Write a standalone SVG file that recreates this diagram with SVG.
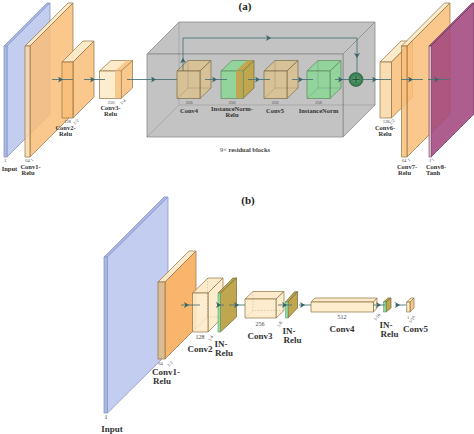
<svg xmlns="http://www.w3.org/2000/svg" width="474" height="434" viewBox="0 0 474 434">
<style>
text{font-family:"Liberation Serif","DejaVu Serif",serif;fill:#2b2b2b;text-anchor:middle}
.t{font-size:11px;font-weight:bold;fill:#222}
.la{font-size:6.500px;font-weight:bold;fill:#333}
.lb{font-size:9px;font-weight:bold;fill:#333}
.s{font-size:4.500px;fill:#444}
.sb{font-size:6px;fill:#444}
.blue{fill:#c3cdf0;stroke:#8b97c4;stroke-width:.8;stroke-linejoin:round}
.bluet{fill:#aab8e6;stroke:#8b97c4;stroke-width:.8;stroke-linejoin:round}
.or{fill:#f9bd78;fill-opacity:.85;stroke:#8f7343;stroke-width:.7;stroke-linejoin:round}
.orp{fill:#fbd8a8;fill-opacity:.88;stroke:#8f7343;stroke-width:.7;stroke-linejoin:round}
.ort{fill:#fde8c6;fill-opacity:.92;stroke:#8f7343;stroke-width:.7;stroke-linejoin:round}
.pale{fill:#fdeac8;fill-opacity:.9;stroke:#8f7343;stroke-width:.7;stroke-linejoin:round}
.tan{fill:#d9c193;fill-opacity:.92;stroke:#7d6b48;stroke-width:.7;stroke-linejoin:round}
.gr{fill:#8fd69a;fill-opacity:.92;stroke:#5d8a5d;stroke-width:.7;stroke-linejoin:round}
.ol{fill:#c0a74f;stroke:#6d6a3a;stroke-width:.7;stroke-linejoin:round}
.pu{fill:#a2487e;fill-opacity:.88;stroke:#6e3a5e;stroke-width:.7;stroke-linejoin:round}
.grey{fill:#c3c3c3;stroke:#8c8c8c;stroke-width:.8;stroke-linejoin:round}
.hid{fill:none;stroke:#000;stroke-opacity:.22;stroke-width:.6}
.c{fill:none;stroke:#4a7478;stroke-width:.9;marker-mid:url(#a)}
</style>
<defs>
<marker id="a" markerWidth="8" markerHeight="8" refX="4" refY="3" orient="auto" markerUnits="userSpaceOnUse"><path d="M0 0L5 3L0 6L1.300 3Z" fill="#3b6468"/></marker>
<radialGradient id="g" cx=".5" cy=".5" r=".6"><stop offset="0" stop-color="#5fa877"/><stop offset="1" stop-color="#2a6a45"/></radialGradient>
</defs>
<text class="t" x="245" y="10">(a)</text>
<text class="t" x="248" y="204">(b)</text>

<g id="a-input"><path class="bluet" d="M4 46L47 3H50L7 46Z"/><path class="blue" d="M7 46L50 3V114L7 157Z"/><rect class="bluet" x="4" y="46" width="3" height="111"/><text class="s" x="5" y="162">1</text><text class="la" x="9.500" y="171">Input</text></g>
<g id="a-conv1"><path class="ort" d="M25 46L68 3H73L30 46Z"/><path class="or" d="M30 46L73 3V114L30 157Z"/><rect class="orp" x="25" y="46" width="5" height="111"/><text class="s" x="27.500" y="162">64</text><text class="s" transform="translate(33,161) rotate(-45)">1</text><text class="la" x="30.500" y="169">Conv1-</text><text class="la" x="28" y="175">Relu</text></g>
<g id="a-conv2"><path class="ort" d="M62 62L83 41H94L73 62Z"/><path class="or" d="M73 62L94 41V97L73 118Z"/><rect class="or" x="62" y="62" width="11" height="56"/><text class="s" x="67.500" y="123">128</text><text class="s" transform="translate(77,123) rotate(-45)">1/2</text><text class="la" x="65.500" y="130">Conv2-</text><text class="la" x="65.500" y="135.500">Relu</text></g>
<g id="a-conv3"><path class="ort" d="M99.500 71L111 60.500H132.500L121 71Z"/><path d="M115 71L126.500 60.500H132.500L121 71Z" fill="#f9c98c"/><path class="or" d="M121 71L132.500 60.500V88L121 98.500Z"/><rect class="pale" x="99.500" y="71" width="21.500" height="27.500"/><rect x="115" y="71.400" width="5.600" height="26.700" fill="#f9c98c"/><text class="s" x="111" y="103.500">256</text><text class="s" transform="translate(124,103) rotate(-45)">1/4</text><text class="la" x="110.500" y="110">Conv3-</text><text class="la" x="110.500" y="116">Relu</text></g>

<g id="res-blocks">
<path class="grey" d="M147 54L179 22H375L343 54Z"/>
<path class="grey" d="M343 54L375 22V105L343 137Z"/>
<rect class="grey" x="147" y="54" width="196" height="83"/>
<path class="hid" d="M179 22V105H375M179 105L147 137"/>
<text class="sb" style="font-size:6.500px" x="245" y="152"><tspan>9× </tspan><tspan font-weight="bold">residual blocks</tspan></text>
</g>

<g id="conv4"><path class="tan" d="M177 71L188 60.500H211L200 71Z"/><path class="tan" d="M200 71L211 60.500V88L200 98.500Z"/><rect class="tan" x="177" y="71" width="23" height="27.500"/><path class="hid" d="M188 60.500V88H211M188 88L177 98.500"/><text class="s" x="189" y="103.500">256</text><text class="la" x="189" y="113">Conv4</text></g>
<g id="in-relu"><path class="gr" d="M221 71L232 60.500H254L243 71Z"/><path d="M236 71L247 60.500H254L243 71Z" fill="#c0a74f"/><path class="ol" d="M243 71L254 60.500V88L243 98.500Z"/><rect class="gr" x="221" y="71" width="22" height="27.500"/><rect x="236" y="71.400" width="6.600" height="26.700" fill="#c0a74f"/><text class="s" x="232" y="103.500">256</text><text class="la" x="232" y="110.500">InstanceNorm-</text><text class="la" x="232" y="116.500">Relu</text></g>
<g id="conv5"><path class="tan" d="M264 71L275 60.500H298L287 71Z"/><path class="tan" d="M287 71L298 60.500V88L287 98.500Z"/><rect class="tan" x="264" y="71" width="23" height="27.500"/><path class="hid" d="M275 60.500V88H298M275 88L264 98.500"/><text class="s" x="275" y="103.500">256</text><text class="la" x="275" y="113">Conv5</text></g>
<g id="instance-norm"><path class="gr" d="M307 71L318 60.500H341L330 71Z"/><path class="gr" d="M330 71L341 60.500V88L330 98.500Z"/><rect class="gr" x="307" y="71" width="23" height="27.500"/><path class="hid" d="M318 60.500V88H341M318 88L307 98.500"/><text class="s" x="318.500" y="103.500">256</text><text class="la" x="318.500" y="113">InstanceNorm</text></g>
<g id="sum"><circle cx="356" cy="79.500" r="7" fill="url(#g)" stroke="#2a5a3d" stroke-width=".6"/><path d="M352.500 79.500H359.500M356 76V83" stroke="#1d4a30" stroke-width=".9"/></g>

<g id="a-conv6"><path class="ort" d="M380 62L401 41H412.500L391.500 62Z"/><path class="or" d="M391.500 62L412.500 41V97L391.500 118Z"/><rect class="orp" x="380" y="62" width="11.500" height="56"/><text class="s" x="386" y="123">128</text><text class="s" transform="translate(393,123) rotate(-45)">1/2</text><text class="la" x="385" y="130">Conv6-</text><text class="la" x="385" y="135.500">Relu</text></g>
<g id="a-conv7"><path class="ort" d="M401.500 46L444.500 3H450L407 46Z"/><path class="or" d="M407 46L450 3V114L407 157Z"/><rect class="or" x="401.500" y="46" width="5.500" height="111"/><text class="s" x="404" y="162">64</text><text class="s" transform="translate(410,161) rotate(-45)">1</text><text class="la" x="407" y="168.500">Conv7-</text><text class="la" x="404.500" y="174.500">Relu</text></g>
<g id="a-conv8"><path class="pu" d="M429 46L472 3H474V3L431 46Z"/><path class="pu" d="M431 46L474 3V114L431 157Z"/><rect x="429" y="46" width="2.500" height="111" fill="#dcb7c4" stroke="#6e3a5e" stroke-width=".6"/><text class="s" x="430" y="162">1</text><text class="s" transform="translate(434,161) rotate(-45)">1</text><text class="la" x="436" y="168.500">Conv8-</text><text class="la" x="433" y="174.500">Tanh</text></g>

<g id="b-input"><path class="bluet" d="M104 257L164 197H168L107.500 257Z"/><path class="blue" d="M107.500 257L168 197V353L107.500 413Z"/><rect class="bluet" x="104" y="257" width="3.500" height="156"/><text class="sb" x="106" y="419">1</text><text class="lb" x="112" y="432">Input</text></g>
<g id="b-conv1"><path class="ort" d="M158 282L189 251H196L165 282Z"/><path d="M165 282L196 251V328L165 359Z" fill="#f9b56c" stroke="#8f7343" stroke-width=".7"/><rect x="158" y="282" width="7" height="77" fill="#dcbc94" stroke="#8f7343" stroke-width=".7"/><text class="s" x="160.500" y="365">64</text><text class="s" transform="translate(171,365) rotate(-45)">1/2</text><text class="lb" x="166" y="375">Conv1-</text><text class="lb" x="162" y="384">Relu</text></g>
<g id="b-conv2"><path class="ort" d="M192.500 293L208 278H223L208 293Z"/><path class="pale" d="M208 293L223 278V317L208 332Z"/><rect class="pale" x="192.500" y="293" width="15.500" height="39"/><path class="hid" d="M207.500 278V317H223M207.500 317L192.500 332" stroke-dasharray="1.500 1.500"/><text class="sb" x="200" y="339">128</text><text class="s" transform="translate(212,339) rotate(-60)">1/4</text><text class="lb" x="200" y="352">Conv2</text></g>
<g id="b-in1"><path class="ol" d="M218 293L233 278H236.500L220.500 293Z"/><path class="ol" d="M220.500 293L236.500 278V317L220.500 332Z"/><rect x="218" y="293" width="2.500" height="39" fill="#8fe09a" stroke="#5d8a5d" stroke-width=".5"/><text class="lb" x="221" y="347">IN-</text><text class="lb" x="224" y="356">Relu</text></g>
<g id="b-conv3"><path class="ort" d="M245 299L253 291.500H284L276 299Z"/><path class="pale" d="M276 299L284 291.500V310.500L276 318Z"/><rect class="pale" x="245" y="299" width="31" height="19"/><path class="hid" d="M253 291.500V310.500H284M253 310.500L245 318" stroke-dasharray="1.500 1.500"/><text class="sb" x="260" y="326">256</text><text class="s" transform="translate(281,325) rotate(-60)">1/8</text><text class="lb" x="260" y="339">Conv3</text></g>
<g id="b-in2"><path class="ol" d="M285.500 302L294.500 291.700H297.500L288 302Z"/><path class="ol" d="M288 302L297.500 291.700V308L288 318Z"/><rect x="285.500" y="302" width="2.500" height="16" fill="#8fe09a" stroke="#5d8a5d" stroke-width=".5"/><text class="lb" x="289" y="334">IN-</text><text class="lb" x="292.500" y="343">Relu</text></g>
<g id="b-conv4"><path class="ort" d="M311 302L315 298H377L373.500 302Z"/><path class="pale" d="M373.500 302L377 298V308L373.500 312Z"/><rect class="pale" x="311" y="302" width="62.500" height="10"/><text class="sb" x="342" y="319">512</text><text class="s" transform="translate(378,318) rotate(-50)">1/16</text><text class="lb" x="342" y="332">Conv4</text></g>
<g id="b-in3"><path class="ol" d="M383.500 302L388 298H391L386 302Z"/><path class="ol" d="M386 302L391 298V308L386 312Z"/><rect x="383.500" y="302" width="2.500" height="10" fill="#8fe09a" stroke="#5d8a5d" stroke-width=".5"/><text class="lb" x="386" y="328">IN-</text><text class="lb" x="389.500" y="337">Relu</text></g>
<g id="b-conv5"><path class="ort" d="M406.700 302L411 298H414L410 302Z"/><path class="or" d="M410 302L414 298V308L410 312Z"/><rect class="pale" x="406.700" y="302" width="3.300" height="10"/><text class="s" x="408" y="319">1</text><text class="s" transform="translate(413,320) rotate(-55)">1/16</text><text class="lb" x="415.500" y="332">Conv5</text></g>

<g id="connectors">
<path class="c" d="M52 79.500H62H73"/><path class="c" d="M84 79.500H94H105"/><path class="c" d="M127 79.500H155H177"/>
<path class="c" d="M205 79.500H216H227"/><path class="c" d="M248 79.500H259H270"/><path class="c" d="M292 79.500H302H313"/><path class="c" d="M335 79.500H342H349"/><path class="c" d="M363 79.500H376H391"/>
<path class="c" d="M183 71V59V38"/><path class="c" d="M183 38H270H357"/><path class="c" d="M357 38V57V72"/>
<path class="c" d="M401 79.500H412H423"/><path class="c" d="M428 79.500H438H450"/>
<path class="c" d="M181 305H188H200"/><path class="c" d="M217 305H220H224"/><path class="c" d="M229 305H238H245"/><path class="c" d="M278 305H286H292"/>
<path class="c" d="M299 305H304H311"/><path class="c" d="M373 305H380H385"/><path class="c" d="M395 305H399H406"/>
</g>
</svg>
